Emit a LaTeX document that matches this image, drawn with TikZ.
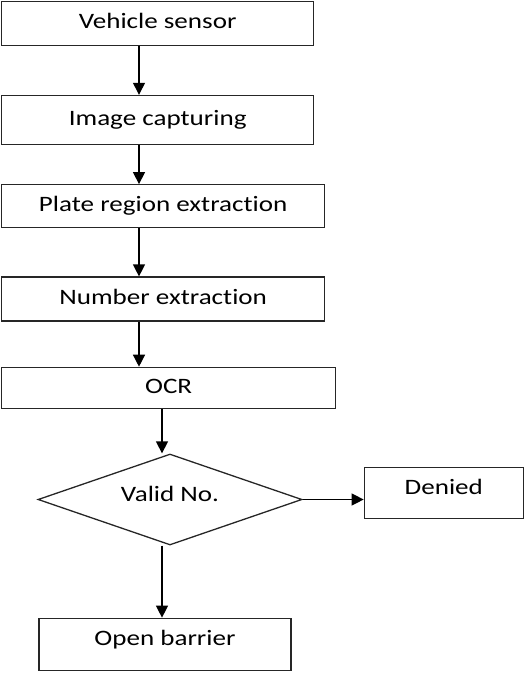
\documentclass[tikz,border=0pt]{standalone}
\usepackage{fontspec}
\setmainfont{Carlito}[FakeStretch=1.23, Ligatures=NoCommon]
\usepackage{tikz}
\usetikzlibrary{shapes.geometric,arrows.meta,positioning}
\tikzstyle{process} = [rectangle, minimum width=312pt, minimum height=44pt, text centered, text height=16pt, text depth=5pt, inner sep=0pt, draw=black!85, line width=1.3pt, font=\fontsize{22pt}{26pt}\selectfont]
\tikzstyle{decision} = [diamond, aspect=2.9, minimum width=264pt, minimum height=91pt, text centered, text height=16pt, text depth=12pt, inner sep=0pt, draw=black!85, line width=1.3pt, font=\fontsize{22pt}{26pt}\selectfont]
\tikzstyle{arrow} = [line width=1.3pt, -{Triangle[width=12pt,length=12pt]}]

\begin{document}
\begin{tikzpicture}
	\useasboundingbox (0,0) rectangle (523pt,-673pt);
	\coordinate (spineA) at (139pt,0);
	\coordinate (spineB) at (162pt,0);

	\node (sensor) [process, anchor=north west] at (1pt,-0.5pt) {Vehicle sensor};
	\node (capture) [process, minimum height=49pt, below=49pt of sensor.south west, anchor=north west] {Image capturing};
	\node (plate) [process, minimum width=323pt, minimum height=43pt, below=39pt of capture.south west, anchor=north west] {Plate region extraction};
	\node (number) [process, minimum width=323pt, below=48pt of plate.south west, anchor=north west] {Number extraction};
	\node (ocr) [process, minimum width=334pt, minimum height=41pt, below=45pt of number.south west, anchor=north west] {OCR};
	\node (valid) [decision] at (170pt,-499.5pt) {Valid No.};
	\node (denied) [process, minimum width=159pt, minimum height=51pt, text depth=13pt, right=61pt of valid.east, yshift=6.5pt] {Denied};
	\node (barrier) [process, minimum width=252pt, minimum height=52pt, text depth=14pt, below=72pt of valid.south, xshift=-5pt] {Open barrier};

	\draw [arrow] (sensor.south -| spineA) -- (capture.north -| spineA);
	\draw [arrow] (capture.south -| spineA) -- (plate.north -| spineA);
	\draw [arrow] (plate.south -| spineA) -- (number.north -| spineA);
	\draw [arrow] (number.south -| spineA) -- (ocr.north -| spineA);
	\draw [arrow] (ocr.south -| spineB) -- (valid.north -| spineB);
	\draw [arrow] (valid.east) -- (valid.east -| denied.west);
	\draw [arrow] (valid.south -| spineB) -- (barrier.north -| spineB);
\end{tikzpicture}
\end{document}
